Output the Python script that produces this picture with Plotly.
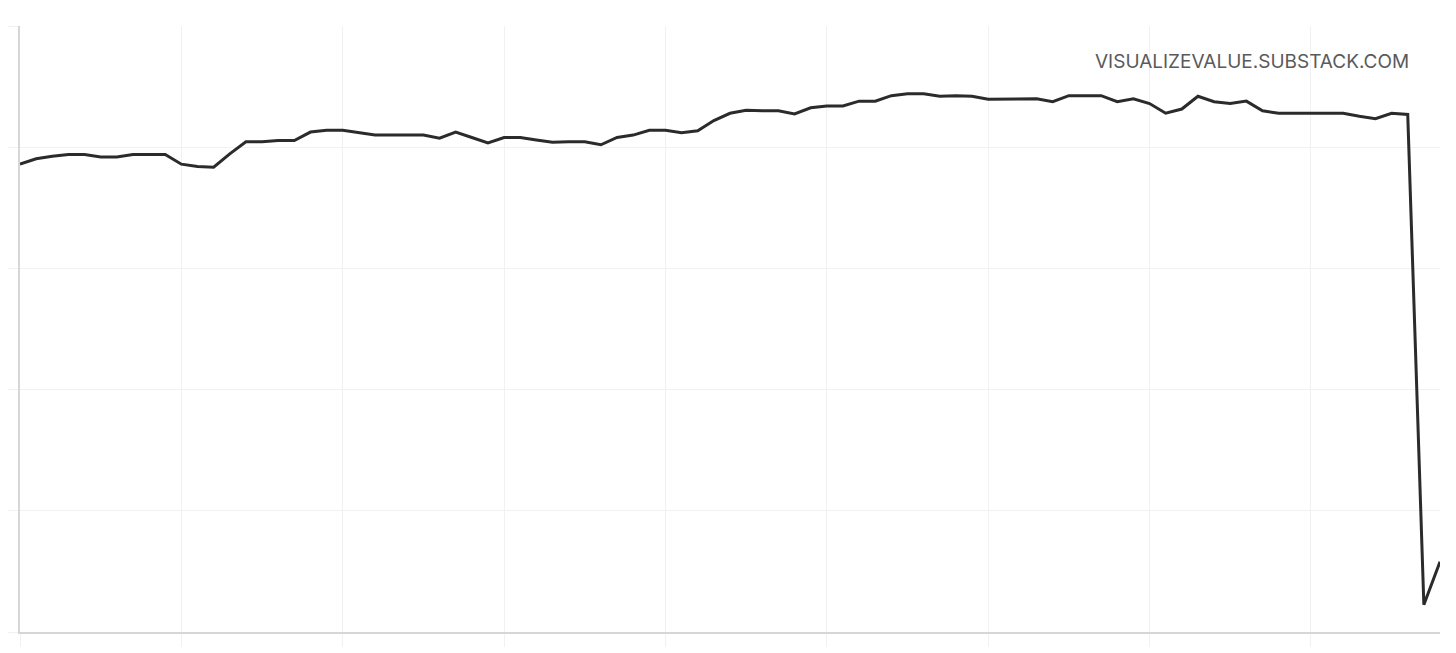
import plotly.graph_objects as go

x_index = list(range(89))
values = [
    77.2, 78.1, 78.5, 78.8, 78.8, 78.4, 78.4, 78.8, 78.8, 78.8,
    77.2, 76.8, 76.7, 78.9, 80.9, 80.9, 81.1, 81.1, 82.5, 82.8,
    82.8, 82.4, 82.0, 82.0, 82.0, 82.0, 81.5, 82.5, 81.6, 80.7,
    81.6, 81.6, 81.2, 80.8, 80.9, 80.9, 80.4, 81.6, 82.0, 82.8,
    82.8, 82.4, 82.7, 84.4, 85.6, 86.1, 86.0, 86.0, 85.5, 86.5,
    86.8, 86.8, 87.6, 87.6, 88.5, 88.8, 88.8, 88.4, 88.5, 88.4,
    87.9, 87.9, 87.9, 88.0, 87.5, 88.5, 88.5, 88.5, 87.5, 88.0,
    87.2, 85.6, 86.3, 88.4, 87.5, 87.2, 87.6, 86.0, 85.6, 85.6,
    85.6, 85.6, 85.6, 85.1, 84.7, 85.6, 85.4, 4.5, 11.6,
]
watermark = "VISUALIZEVALUE.SUBSTACK.COM"

fig = go.Figure()
fig.add_trace(go.Scatter(
    x=x_index, y=values, mode="lines",
    line=dict(color="#2b2b2b", width=3),
    hoverinfo="skip", showlegend=False,
))

fig.add_annotation(
    text=watermark, xref="paper", yref="paper",
    x=0.9796, y=0.942, xanchor="right", yanchor="middle",
    showarrow=False,
    font=dict(family="Inter, Roboto, sans-serif", size=19, color="#5a5a5a"),
)

fig.update_layout(
    width=1456, height=653,
    margin=dict(l=12, r=24, t=18, b=29, autoexpand=False),
    paper_bgcolor="white", plot_bgcolor="white",
    xaxis=dict(
        range=[0, 88], dtick=10, tick0=0, automargin=False,
        showgrid=True, gridcolor="#f1f1f1", gridwidth=1,
        showline=True, linecolor="#d6d6d6", linewidth=1.5,
        ticks="outside", ticklen=13, tickcolor="#f1f1f1",
        showticklabels=False, zeroline=False,
    ),
    yaxis=dict(
        range=[0, 100], dtick=20, tick0=0, automargin=False,
        showgrid=True, gridcolor="#f1f1f1", gridwidth=1,
        showline=True, linecolor="#d6d6d6", linewidth=1.5,
        ticks="outside", ticklen=13, tickcolor="#f1f1f1",
        showticklabels=False, zeroline=False,
    ),
)

fig.write_html("out.html")
